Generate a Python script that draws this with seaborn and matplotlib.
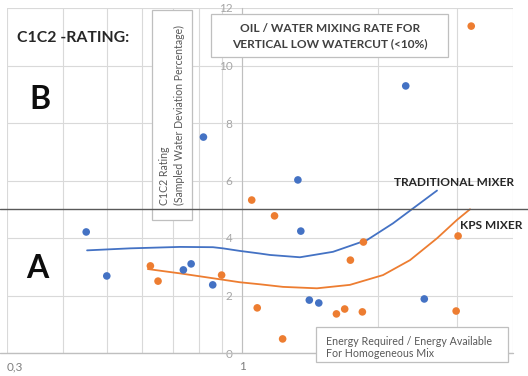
import numpy as np
import pandas as pd
import matplotlib
matplotlib.use("Agg")
import matplotlib.pyplot as plt
import seaborn as sns
from matplotlib.patches import Rectangle
from matplotlib.ticker import FixedLocator, NullFormatter

sns.set_style("white")
plt.rcParams['font.family'] = ['Lato', 'DejaVu Sans']

# energy ratio (x) vs C1C2 rating (y)
trad_x = [0.45, 0.50, 0.74, 0.77, 0.82, 0.86, 1.33, 1.35, 1.41, 1.48, 2.31, 2.54]
trad_y = [4.21, 2.68, 2.89, 3.10, 7.51, 2.37, 6.02, 4.24, 1.84, 1.74, 9.29, 1.88]
kps_x = [0.625, 0.65, 0.90, 1.05, 1.08, 1.18, 1.23, 1.62, 1.69, 1.74, 1.85, 1.86, 2.99, 3.02, 3.23]
kps_y = [3.03, 2.50, 2.71, 5.32, 1.57, 4.77, 0.49, 1.36, 1.53, 3.23, 1.43, 3.86, 1.46, 4.07, 11.37]

# trendlines
trad_trend_x = [0.452, 0.563, 0.727, 0.861, 0.906, 0.989, 1.095, 1.153, 1.344, 1.592, 1.895, 2.164, 2.398, 2.711]
trad_trend_y = [3.57, 3.64, 3.69, 3.68, 3.64, 3.55, 3.46, 3.41, 3.33, 3.52, 3.93, 4.51, 5.03, 5.65]
kps_trend_x = [0.617, 0.727, 0.861, 0.989, 1.095, 1.232, 1.466, 1.736, 2.056, 2.361, 2.711, 3.003, 3.21]
kps_trend_y = [2.92, 2.77, 2.60, 2.46, 2.39, 2.30, 2.25, 2.37, 2.71, 3.23, 3.99, 4.63, 5.00]

mixers = ["TRADITIONAL MIXER", "KPS MIXER"]
colors = {"TRADITIONAL MIXER": "#4472C4", "KPS MIXER": "#ED7D31"}

y_ticks = [0, 2, 4, 6, 8, 10, 12]
x_major = [0.3, 1]
x_major_labels = ["0,3", "1"]
x_minor = [0.4, 0.5, 0.6, 0.7, 0.8, 0.9, 2, 3, 4]

df = pd.DataFrame({
    "x": trad_x + kps_x,
    "y": trad_y + kps_y,
    "mixer": [mixers[0]] * len(trad_x) + [mixers[1]] * len(kps_x),
})
trend = pd.DataFrame({
    "x": trad_trend_x + kps_trend_x,
    "y": trad_trend_y + kps_trend_y,
    "mixer": [mixers[0]] * len(trad_trend_x) + [mixers[1]] * len(kps_trend_x),
})

W, H = 528, 376
fig = plt.figure(figsize=(W / 100, H / 100), dpi=100)
ax = fig.add_axes([7 / W, 23 / H, 506 / W, 345 / H])


def fx(px):
    return px / W


def fy(py):
    return 1 - py / H


sns.lineplot(data=trend, x="x", y="y", hue="mixer", palette=colors, lw=1.3,
             legend=False, ax=ax, zorder=3)
sns.scatterplot(data=df, x="x", y="y", hue="mixer", palette=colors, s=30,
                edgecolor="none", legend=False, ax=ax, zorder=4)

ax.set_xscale("log")
ax.set_xlim(0.3, 4)
ax.set_ylim(0, 12)
ax.xaxis.set_major_locator(FixedLocator(x_major))
ax.set_xticklabels(x_major_labels)
ax.xaxis.set_minor_locator(FixedLocator(x_minor))
ax.xaxis.set_minor_formatter(NullFormatter())
ax.get_xticklabels()[0].set_horizontalalignment("left")
ax.set_yticks(y_ticks)
ax.set_xlabel("")
ax.set_ylabel("")

ax.grid(True, which="both", color="#d9d9d9", lw=0.8)
ax.set_axisbelow(True)
for s in ["top", "right", "bottom"]:
    ax.spines[s].set_visible(False)
ax.spines["left"].set_position(("data", 1))
ax.spines["left"].set_color("#bfbfbf")
ax.tick_params(axis="y", length=0, pad=7, labelsize=8.5, labelcolor="#a6a6a6")
ax.tick_params(axis="x", which="both", length=0, pad=6, labelsize=8.5, labelcolor="#7f7f7f")

# x axis line and the A/B separation line
ax.axhline(0, xmin=-7 / 506, xmax=1, color="#bfbfbf", lw=1, clip_on=False, zorder=2)
ax.axhline(5, xmin=-7 / 506, xmax=521 / 506, color="#595959", lw=1, clip_on=False, zorder=10)


def box(x0, y0, x1, y1):
    ax.add_patch(Rectangle((fx(x0), fy(y1)), (x1 - x0) / W, (y1 - y0) / H,
                           transform=fig.transFigure, fc="white", ec="#bfbfbf",
                           lw=0.9, clip_on=False, zorder=5))


def label(x, y, s, **kw):
    ax.text(fx(x), fy(y), s, transform=fig.transFigure, zorder=6, **kw)


box(211, 14, 448, 57)
label(330, 36, "OIL / WATER MIXING RATE FOR\nVERTICAL LOW WATERCUT (<10%)", ha="center",
      va="center", fontsize=8.6, fontweight="bold", color="#404040", linespacing=1.4)

box(152, 10, 192, 220)
label(172, 205, "C1C2 Rating\n(Sampled Water Deviation Percentage)", rotation=90,
      ha="center", va="bottom", multialignment="left", fontsize=7.6, color="#595959",
      linespacing=1.5)

box(316, 327, 508, 362)
label(326, 347.5, "Energy Required / Energy Available\nFor Homogeneous Mix", ha="left",
      va="center", fontsize=7.7, color="#595959", linespacing=1.15)

label(73.5, 37.5, "C1C2 -RATING:", ha="center", va="center", fontsize=11.4,
      fontweight="bold", color="#262626")
label(39.5, 99.5, "B", ha="center", va="center", fontsize=23, fontweight="bold", color="#0d0d0d")
label(37, 268, "A", ha="center", va="center", fontsize=23, fontweight="bold", color="#0d0d0d")
label(454.5, 183, "TRADITIONAL MIXER", ha="center", va="center", fontsize=8.6,
      fontweight="bold", color="#262626")
label(491.5, 225, "KPS MIXER", ha="center", va="center", fontsize=8.6,
      fontweight="bold", color="#262626")

fig.savefig("out.png", dpi=100, facecolor="white")
